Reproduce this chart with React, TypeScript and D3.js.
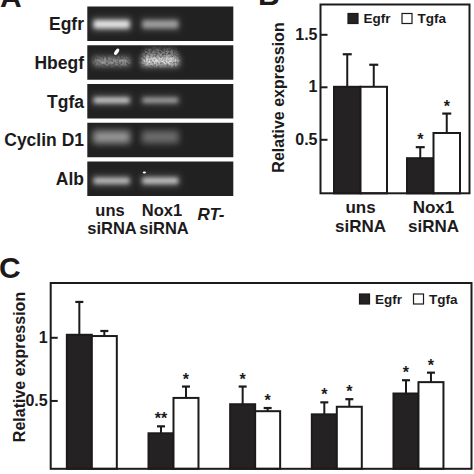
import React, { useEffect, useRef } from 'react';
import * as d3 from 'd3';

// panel A: RT-PCR gel, band brightness per lane (uns, Nox1, RT-)
const genes = ['Egfr', 'Hbegf', 'Tgfa', 'Cyclin D1', 'Alb'];
const lanes = ['uns', 'Nox1', 'RT-'];
const egfrBands = [0.82, 0.48, 0];
const hbegfBands = [0.55, 0.9, 0];
const tgfaBands = [0.72, 0.5, 0];
const cyclinBands = [0.45, 0.28, 0];
const albBands = [0.62, 0.66, 0];

// panel B
const groupsB = ['uns', 'Nox1'];
const egfrB = [1.0, 0.32];
const egfrErrB = [0.31, 0.105];
const tgfaB = [1.0, 0.56];
const tgfaErrB = [0.21, 0.185];
const egfrSigB = ['', '*'];
const tgfaSigB = ['', '*'];
const ticksB = [0.5, 1, 1.5];

// panel C
const groupsC = ['c1', 'c2', 'c3', 'c4', 'c5'];
const egfrC = [1.02, 0.24, 0.47, 0.39, 0.555];
const egfrErrC = [0.26, 0.055, 0.14, 0.095, 0.105];
const tgfaC = [1.01, 0.52, 0.415, 0.45, 0.645];
const tgfaErrC = [0.04, 0.09, 0.025, 0.06, 0.075];
const egfrSigC = ['', '**', '*', '*', '*'];
const tgfaSigC = ['', '*', '*', '*', '*'];
const ticksC = [0.5, 1];

const series = ['Egfr', 'Tgfa'];
const FONT = '"Liberation Sans", Arial, Helvetica, sans-serif';
const INK = '#1c1a1b';

type Frame = { l: number, r: number, t: number, b: number };

function barPanel(root: any, cfg: any) {
  const { frame, y, x, groups, vals, errs, sigs, ticks, capW, legend, label } = cfg;
  const f: Frame = frame;
  const g = root.append('g');
  const sub = d3.scaleBand().domain(series).range([0, x.bandwidth()]);

  series.forEach((s, si) => {
    const v: number[] = vals[si], e: number[] = errs[si], sg: string[] = sigs[si];
    const cx = (d: string) => x(d) + sub(s) + sub.bandwidth() / 2;

    g.append('g').selectAll('line')
      .data(groups)
      .join('line')
      .attr('x1', cx).attr('x2', cx)
      .attr('y1', (d: string, i: number) => y(v[i]))
      .attr('y2', (d: string, i: number) => y(v[i] + e[i]))
      .attr('stroke', INK).attr('stroke-width', 2);

    g.append('g').selectAll('line')
      .data(groups)
      .join('line')
      .attr('x1', (d: string) => cx(d) - capW / 2)
      .attr('x2', (d: string) => cx(d) + capW / 2)
      .attr('y1', (d: string, i: number) => y(v[i] + e[i]))
      .attr('y2', (d: string, i: number) => y(v[i] + e[i]))
      .attr('stroke', INK).attr('stroke-width', 2.2);

    g.append('g').selectAll('rect')
      .data(groups)
      .join('rect')
      .attr('x', (d: string) => x(d) + sub(s))
      .attr('y', (d: string, i: number) => y(v[i]))
      .attr('width', sub.bandwidth())
      .attr('height', (d: string, i: number) => f.b - y(v[i]))
      .attr('fill', s === 'Egfr' ? '#252223' : '#fff')
      .attr('stroke', INK).attr('stroke-width', 2);

    g.append('g').selectAll('text')
      .data(groups)
      .join('text')
      .attr('x', cx)
      .attr('y', (d: string, i: number) => y(v[i] + e[i]) - 2)
      .attr('text-anchor', 'middle')
      .attr('font-family', FONT).attr('font-weight', 'bold').attr('font-size', 16)
      .attr('fill', INK)
      .text((d: string, i: number) => sg[i]);
  });

  const axis = g.append('g')
    .attr('transform', `translate(${f.l},0)`)
    .call(d3.axisLeft(y).tickValues(ticks).tickSizeInner(-7).tickSizeOuter(0).tickPadding(3)
      .tickFormat((d: any) => String(d)));
  axis.select('.domain').remove();
  axis.selectAll('line').attr('stroke', INK).attr('stroke-width', 2);
  axis.selectAll('text')
    .attr('font-family', FONT).attr('font-weight', 'bold').attr('font-size', 16).attr('fill', INK);

  g.append('rect')
    .attr('x', f.l).attr('y', f.t)
    .attr('width', f.r - f.l).attr('height', f.b - f.t)
    .attr('fill', 'none').attr('stroke', INK).attr('stroke-width', 2);

  // legend
  const lg = g.append('g').attr('transform', `translate(${legend.x},${legend.y})`);
  series.forEach((s, i) => {
    lg.append('rect')
      .attr('x', i * 54).attr('y', 0).attr('width', 10).attr('height', 10)
      .attr('fill', i === 0 ? '#252223' : '#fff')
      .attr('stroke', INK).attr('stroke-width', 1.2);
    lg.append('text')
      .attr('x', i * 54 + 15.5).attr('y', 9.5)
      .attr('font-family', FONT).attr('font-weight', 'bold').attr('font-size', 13.5)
      .attr('fill', INK)
      .text(s);
  });

  g.append('text')
    .attr('transform', `translate(${label.x},${label.y}) rotate(-90)`)
    .attr('text-anchor', 'middle')
    .attr('font-family', FONT).attr('font-weight', 'bold').attr('font-size', 16)
    .attr('fill', INK)
    .text('Relative expression');

  return g;
}

const App: React.FC = () => {
  const ref = useRef<SVGSVGElement>(null);

  useEffect(() => {
    if (!ref.current) return;
    const svg = d3.select(ref.current);
    svg.selectAll('*').remove();

    const defs = svg.append('defs');
    defs.append('filter').attr('id', 'glow')
      .attr('x', '-30%').attr('y', '-100%').attr('width', '160%').attr('height', '300%')
      .append('feGaussianBlur').attr('stdDeviation', 2.1);
    defs.append('filter').attr('id', 'soft')
      .attr('x', '-30%').attr('y', '-100%').attr('width', '160%').attr('height', '300%')
      .append('feGaussianBlur').attr('stdDeviation', 3.4);
    const sp = defs.append('filter').attr('id', 'speckle')
      .attr('x', '-30%').attr('y', '-100%').attr('width', '160%').attr('height', '300%');
    sp.append('feGaussianBlur').attr('in', 'SourceGraphic').attr('stdDeviation', 2.6).attr('result', 'blur');
    sp.append('feTurbulence').attr('type', 'fractalNoise').attr('baseFrequency', 0.45)
      .attr('numOctaves', 2).attr('seed', 4).attr('result', 'noise');
    sp.append('feColorMatrix').attr('in', 'noise').attr('type', 'matrix')
      .attr('values', '0 0 0 0 1  0 0 0 0 1  0 0 0 0 1  0 0 0 1.9 -0.25').attr('result', 'mask');
    sp.append('feComposite').attr('in', 'blur').attr('in2', 'mask').attr('operator', 'in');

    // ---- panel A: gel ----
    const gel = svg.append('g');
    const gx = d3.scaleBand().domain(lanes).range([87.3, 233.3]).paddingInner(0.18).paddingOuter(0.09);
    const labelX = d3.scaleBand().domain(lanes).range([86, 242]);
    const gy = d3.scaleBand().domain(genes).range([6.5, 196]).paddingInner(0.11);
    const bands = [egfrBands, hbegfBands, tgfaBands, cyclinBands, albBands];
    const look: { [k: string]: { h: number, dy: number, filt: string } } = {
      'Egfr': { h: 8, dy: 0.5, filt: 'glow' },
      'Hbegf': { h: 7, dy: -1, filt: 'speckle' },
      'Tgfa': { h: 5, dy: -1, filt: 'glow' },
      'Cyclin D1': { h: 11, dy: -3, filt: 'soft' },
      'Alb': { h: 6, dy: 2, filt: 'glow' },
    };

    gel.selectAll('rect.row')
      .data(genes)
      .join('rect')
      .attr('class', 'row')
      .attr('x', 87.3).attr('width', 146)
      .attr('y', d => gy(d) as number).attr('height', gy.bandwidth())
      .attr('fill', '#212121');

    genes.forEach((gn, gi) => {
      const st = look[gn];
      const cy = (gy(gn) as number) + gy.bandwidth() / 2 + st.dy;
      lanes.forEach((ln, li) => {
        const v = bands[gi][li];
        if (!v) return;
        const x0 = (gx(ln) as number) + 2, w = gx.bandwidth() - 4;
        gel.append('rect')
          .attr('x', x0 - 2).attr('width', w + 4)
          .attr('y', cy - st.h / 2 - 3).attr('height', st.h + 6)
          .attr('fill', '#fff').attr('opacity', v * 0.3)
          .attr('filter', 'url(#soft)');
        if (gn === 'Hbegf' && li === 1) {
          gel.append('rect')
            .attr('x', x0 + 1).attr('width', w - 2)
            .attr('y', cy - 13).attr('height', 15).attr('rx', 5)
            .attr('fill', '#fff').attr('opacity', 0.42)
            .attr('filter', 'url(#speckle)');
        }
        gel.append('rect')
          .attr('x', x0).attr('width', w)
          .attr('y', cy - st.h / 2).attr('height', st.h)
          .attr('rx', 2)
          .attr('fill', '#fff').attr('opacity', v)
          .attr('filter', `url(#${st.filt})`);
      });
    });

    // specks on the gel
    gel.append('ellipse')
      .attr('cx', (gx('uns') as number) + 25).attr('cy', (gy('Hbegf') as number) + 6.5)
      .attr('rx', 1.8).attr('ry', 3.6)
      .attr('transform', `rotate(35,${(gx('uns') as number) + 25},${(gy('Hbegf') as number) + 6.5})`)
      .attr('fill', '#fff');
    gel.append('ellipse')
      .attr('cx', (gx('Nox1') as number) + 4).attr('cy', (gy('Alb') as number) + 11)
      .attr('rx', 1.6).attr('ry', 0.9)
      .attr('fill', '#fff');

    gel.selectAll('text.gene')
      .data(genes)
      .join('text')
      .attr('class', 'gene')
      .attr('x', 84)
      .attr('y', d => (gy(d) as number) + gy.bandwidth() / 2)
      .attr('dy', '0.36em')
      .attr('text-anchor', 'end')
      .attr('font-family', FONT).attr('font-weight', 'bold').attr('font-size', 17.5)
      .attr('fill', INK)
      .text(d => d);

    lanes.forEach(ln => {
      const cx = (labelX(ln) as number) + labelX.bandwidth() / 2;
      if (ln === 'RT-') {
        gel.append('text').attr('x', cx - 5).attr('y', 220).attr('text-anchor', 'middle')
          .attr('font-family', FONT).attr('font-weight', 'bold').attr('font-style', 'italic')
          .attr('font-size', 17).attr('fill', INK).text(ln);
      } else {
        gel.append('text').attr('x', cx - 2).attr('y', 215.5).attr('text-anchor', 'middle')
          .attr('font-family', FONT).attr('font-weight', 'bold').attr('font-size', 16.5)
          .attr('fill', INK).text(ln);
        gel.append('text').attr('x', cx).attr('y', 234).attr('text-anchor', 'middle')
          .attr('font-family', FONT).attr('font-weight', 'bold').attr('font-size', 16.5)
          .attr('fill', INK).text('siRNA');
      }
    });

    // ---- panel B ----
    const frameB: Frame = { l: 320.5, r: 469.5, t: 4.5, b: 193.3 };
    const yB = d3.scaleLinear().domain([0, 1.5]).range([191.8, 34.3]);
    const xB = d3.scaleBand().domain(groupsB).range([324, 470]).paddingInner(0.274).paddingOuter(0.137);
    barPanel(svg, {
      frame: frameB, y: yB, x: xB, groups: groupsB,
      vals: [egfrB, tgfaB], errs: [egfrErrB, tgfaErrB], sigs: [egfrSigB, tgfaSigB],
      ticks: ticksB, capW: 9, legend: { x: 348, y: 13.5 }, label: { x: 283.5, y: 97.5 },
    });
    groupsB.forEach(gr => {
      const cx = (xB(gr) as number) + xB.bandwidth() / 2;
      svg.append('text').attr('x', cx).attr('y', 213.3).attr('text-anchor', 'middle')
        .attr('font-family', FONT).attr('font-weight', 'bold').attr('font-size', 17)
        .attr('fill', INK).text(gr);
      svg.append('text').attr('x', cx).attr('y', 232).attr('text-anchor', 'middle')
        .attr('font-family', FONT).attr('font-weight', 'bold').attr('font-size', 17)
        .attr('fill', INK).text('siRNA');
    });

    // ---- panel C ----
    const frameC: Frame = { l: 50.7, r: 471.5, t: 283, b: 468.8 };
    const yC = d3.scaleLinear().domain([0, 1]).range([463.6, 337.3]);
    const xC = d3.scaleBand().domain(groupsC).range([51, 459.3]).paddingInner(0.388).paddingOuter(0.194);
    barPanel(svg, {
      frame: frameC, y: yC, x: xC, groups: groupsC,
      vals: [egfrC, tgfaC], errs: [egfrErrC, tgfaErrC], sigs: [egfrSigC, tgfaSigC],
      ticks: ticksC, capW: 8, legend: { x: 359.5, y: 294 }, label: { x: 24.8, y: 367 },
    });

    // panel letters
    const letters = [['A', 0, 7], ['B', 258, 5], ['C', -1, 278]];
    svg.selectAll('text.panel')
      .data(letters)
      .join('text')
      .attr('class', 'panel')
      .attr('x', d => d[1] as number).attr('y', d => d[2] as number)
      .attr('font-family', FONT).attr('font-weight', 'bold').attr('font-size', 30)
      .attr('fill', INK)
      .text(d => d[0] as string);
  }, []);

  return (
    <svg
      ref={ref}
      width={474}
      height={474}
      style={{ position: 'absolute', left: 0, top: 0, background: '#fff' }}
    />
  );
};

export default App;
